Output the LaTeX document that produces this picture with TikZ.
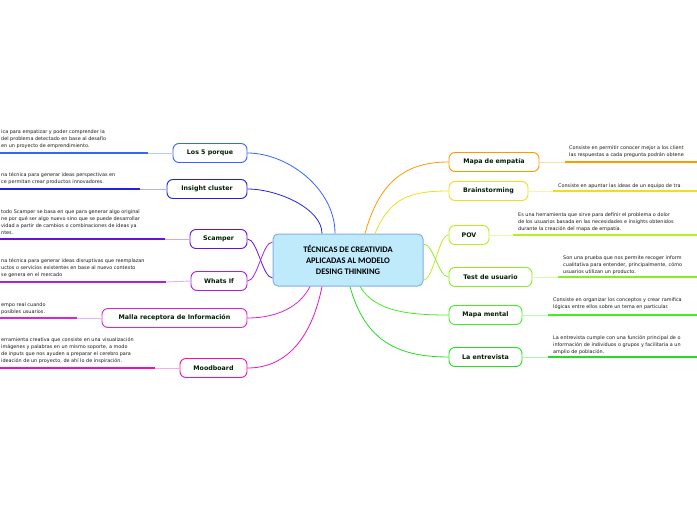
\documentclass[tikz,border=0pt]{standalone}
\usepackage{fontspec}
\setmainfont{DejaVu Sans}
\newfontfamily\ctitle{Carlito}
\begin{document}
\begin{tikzpicture}[x=1pt,y=-1pt,
  topic/.style={draw=#1,line width=0.9pt,rounded corners=6pt,fill=white,minimum height=19pt,inner xsep=6pt,font=\bfseries\fontsize{6.3}{7}\selectfont,text=black!70!green!40!black},
  desc/.style={font=\fontsize{4.9}{7}\selectfont,align=left,inner sep=0pt,text=black!90},
  conn/.style={draw=#1,line width=0.8pt},
  thin/.style={draw=#1!35,line width=0.9pt},
  thick/.style={draw=#1,line width=1.3pt}]
\useasboundingbox (0,0) rectangle (697,520);
\clip (0,0) rectangle (697,520);
\definecolor{c1}{HTML}{3366FF}\definecolor{c2}{HTML}{2222DD}\definecolor{c3}{HTML}{6611DD}
\definecolor{c4}{HTML}{AA22DD}\definecolor{c5}{HTML}{DD22DD}\definecolor{c6}{HTML}{EE11BB}
\definecolor{d1}{HTML}{FF9900}\definecolor{d2}{HTML}{EEDD22}\definecolor{d3}{HTML}{BBEE22}
\definecolor{d4}{HTML}{88EE22}\definecolor{d5}{HTML}{44EE22}\definecolor{d6}{HTML}{22DD22}
% center
\node[draw=cyan!60!blue!50,line width=1pt,fill=cyan!25,rounded corners=5pt,minimum width=150pt,minimum height=52pt,align=center,font=\ctitle\bfseries\fontsize{8.5}{11}\selectfont] (c) at (348,260) {TÉCNICAS DE CREATIVIDA\\APLICADAS AL MODELO\\DESING THINKING};
% left topics
\node[topic=c1,minimum width=74pt] (l1) at (210,153) {Los 5 porque};
\node[topic=c2,minimum width=80pt] (l2) at (207,189) {Insight cluster};
\node[topic=c3,minimum width=57pt] (l3) at (218.5,239) {Scamper};
\node[topic=c4,minimum width=56pt] (l4) at (219,281) {Whats If};
\node[topic=c5,minimum width=145pt] (l5) at (174.5,318) {Malla receptora de Información};
\node[topic=c6,minimum width=67pt] (l6) at (213.5,368) {Moodboard};
% right topics
\node[topic=d1,minimum width=90pt] (r1) at (494,162) {Mapa de empatía};
\node[topic=d2,minimum width=79pt] (r2) at (488.5,191) {Brainstorming};
\node[topic=d3,minimum width=40pt] (r3) at (469,235) {POV};
\node[topic=d4,minimum width=83pt] (r4) at (490.5,277) {Test de usuario};
\node[topic=d5,minimum width=73pt] (r5) at (485.5,315) {Mapa mental};
\node[topic=d6,minimum width=73pt] (r6) at (485.5,357) {La entrevista};
% connectors
\draw[conn=c1] ([xshift=-13pt]c.north) .. controls +(0,-45) and +(40,0) .. (l1.east);
\draw[conn=c2] ([xshift=-26pt]c.north) .. controls +(0,-25) and +(30,0) .. (l2.east);
\draw[conn=c3] ([yshift=-18pt]c.west) .. controls +(-10,0) and +(10,0) .. (l3.east);
\draw[conn=c4] ([yshift=18pt]c.west) .. controls +(-10,0) and +(10,0) .. (l4.east);
\draw[conn=c5] ([xshift=-38pt]c.south) .. controls +(-10,20) and +(30,0) .. (l5.east);
\draw[conn=c6] ([xshift=-26pt]c.south) .. controls +(-10,50) and +(40,0) .. (l6.east);
\draw[conn=d1] ([xshift=17pt]c.north) .. controls +(15,-55) and +(-40,0) .. (r1.west);
\draw[conn=d2] ([xshift=27pt]c.north) .. controls +(15,-35) and +(-40,0) .. (r2.west);
\draw[conn=d3] ([yshift=-20pt]c.east) .. controls +(10,0) and +(-10,0) .. (r3.west);
\draw[conn=d4] ([yshift=16pt]c.east) .. controls +(10,0) and +(-10,0) .. (r4.west);
\draw[conn=d5] ([xshift=12pt]c.south) .. controls +(15,25) and +(-40,0) .. (r5.west);
\draw[conn=d6] ([xshift=2pt]c.south) .. controls +(15,55) and +(-50,0) .. (r6.west);
% left description lines
\coordinate (a1) at (148,153); \coordinate (e1) at (0,153);
\draw[thin=c1] (l1.west) -- (a1); \draw[thick=c1] (a1) -- (e1);
\coordinate (a2) at (140,189); \coordinate (e2) at (0,189);
\draw[thin=c2] (l2.west) -- (a2); \draw[thick=c2] (a2) -- (e2);
\coordinate (a3) at (165,239); \coordinate (e3) at (0,239);
\draw[thin=c3] (l3.west) -- (a3); \draw[thick=c3] (a3) -- (e3);
\coordinate (a4) at (166,282); \coordinate (e4) at (0,282);
\draw[thin=c4] (l4.west) -- (a4); \draw[thick=c4] (a4) -- (e4);
\coordinate (a5) at (77,318); \coordinate (e5) at (0,318);
\draw[thin=c5] (l5.west) -- (a5); \draw[thick=c5] (a5) -- (e5);
\coordinate (a6) at (155,368); \coordinate (e6) at (0,368);
\draw[thin=c6] (l6.west) -- (a6); \draw[thick=c6] (a6) -- (e6);
% left texts (visible parts)
\node[desc,anchor=north west] (t1) at (1,129.5) {ica para empatizar y poder comprender la\\del problema detectado en base al desafío\\en un proyecto de emprendimiento.};
\node[desc,anchor=north west] (t2) at (1,172.5) {na técnica para generar ideas  perspectivas en\\ce permitan crear productos innovadores.};
\node[desc,anchor=north west] (t3) at (1,209.5) {todo Scamper se basa en que para generar algo original\\ne por qué ser algo nuevo sino que se puede desarrollar\\vidad a partir de cambios o combinaciones de ideas ya\\ntes.};
\node[desc,anchor=north west] (t4) at (1,258.5) {na técnica para generar ideas disruptivas que reemplazan\\uctos o servicios existentes en base al nuevo contexto\\se genera en el mercado};
\node[desc,anchor=north west] (t5) at (1,302.5) {empo real cuando\\posibles usuarios.};
\node[desc,anchor=north west] (t6) at (1,337.5) {erramienta creativa que consiste en una visualización\\imágenes y palabras en un mismo soporte, a modo\\de inputs que nos ayuden a preparar el cerebro para\\ ideación de un proyecto, de ahí lo de inspiración.};
% right description lines
\coordinate (b1) at (565,162); \coordinate (f1) at (697,162);
\draw[thin=d1] (r1.east) -- (b1); \draw[thick=d1] (b1) -- (f1);
\coordinate (b2) at (553,191); \coordinate (f2) at (697,191);
\draw[thin=d2] (r2.east) -- (b2); \draw[thick=d2] (b2) -- (f2);
\coordinate (b3) at (513,235); \coordinate (f3) at (697,235);
\draw[thin=d3] (r3.east) -- (b3); \draw[thick=d3] (b3) -- (f3);
\coordinate (b4) at (558,277); \coordinate (f4) at (697,277);
\draw[thin=d4] (r4.east) -- (b4); \draw[thick=d4] (b4) -- (f4);
\coordinate (b5) at (548,315); \coordinate (f5) at (697,315);
\draw[thin=d5] (r5.east) -- (b5); \draw[thick=d5] (b5) -- (f5);
\coordinate (b6) at (548,357); \coordinate (f6) at (697,357);
\draw[thin=d6] (r6.east) -- (b6); \draw[thick=d6] (b6) -- (f6);
% right texts (visible parts)
\node[desc,anchor=north west] (s1) at (569,145.5) {Consiste en permitir conocer mejor a los client\\las respuestas a cada pregunta podrán obtene};
\node[desc,anchor=north west] (s2) at (558,183.5) {Consiste en apuntar las ideas de un equipo de tra};
\node[desc,anchor=north west] (s3) at (518,212.5) {Es una herramienta que sirve para definir el problema o dolor\\de los usuarios basada en las necesidades e insights obtenidos\\durante la creación del mapa de empatía.};
\node[desc,anchor=north west] (s4) at (563,255.5) {Son una prueba que nos permite recoger inform\\cualitativa para entender, principalmente, cómo\\usuarios utilizan un producto.};
\node[desc,anchor=north west] (s5) at (553,297.5) {Consiste en organizar los conceptos y crear ramifica\\lógicas entre ellos sobre un tema en particular.};
\node[desc,anchor=north west] (s6) at (553,335.5) {La entrevista cumple con una función principal de o\\información de individuos o grupos y facilitaria a un\\amplio de población.};
\end{tikzpicture}
\end{document}
